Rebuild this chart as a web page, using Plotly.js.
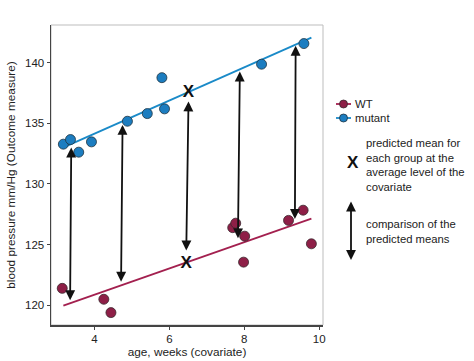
<!DOCTYPE html>
<html>
<head>
<meta charset="utf-8">
<script src="https://cdn.plot.ly/plotly-3.0.1.min.js"></script>
<style>html,body{margin:0;padding:0;background:#fff;}#chart{width:474px;height:361px;}</style>
</head>
<body>
<div id="chart"></div>
<script>
// ---- data ----
var mutantAge = [3.17, 3.36, 3.58, 3.92, 4.88, 5.41, 5.80, 5.87, 8.46, 9.59];
var mutantBP  = [133.28, 133.66, 132.62, 133.47, 135.17, 135.80, 138.76, 136.19, 139.87, 141.57];
var wtAge = [3.14, 4.25, 4.44, 7.69, 7.77, 7.98, 8.01, 9.18, 9.57, 9.79];
var wtBP  = [121.4, 120.5, 119.4, 126.4, 126.77, 123.56, 125.7, 127.0, 127.84, 125.07];
var mutantFitAge = [3.22, 9.79];
var mutantFitBP  = [133.08, 142.06];
var wtFitAge = [3.17, 9.79];
var wtFitBP  = [119.97, 127.14];
var meanAge = [6.45, 6.51];       // WT, mutant
var meanBP  = [123.4, 137.53];
var arrowTopAge = [3.38, 4.75, 6.51, 7.88, 9.37];
var arrowTopBP  = [133.0, 134.87, 136.8, 139.26, 141.38];
var arrowBottomAge = [3.35, 4.71, 6.45, 7.83, 9.35];
var arrowBottomBP  = [120.3, 121.83, 124.4, 125.4, 127.0];
var xTicks = [4, 6, 8, 10];
var yTicks = [120, 125, 130, 135, 140];
var groupNames = ['WT', 'mutant'];

var FONT = 'Liberation Sans, Arial, sans-serif';
var wtFill = '#8e1f47', wtLine = '#a3204f';
var muFill = '#1c7dc0', muLine = '#1a8ac8';

var traces = [
  {x: wtFitAge, y: wtFitBP, mode: 'lines', line: {color: wtLine, width: 1.8}, showlegend: false, hoverinfo: 'skip'},
  {x: mutantFitAge, y: mutantFitBP, mode: 'lines', line: {color: muLine, width: 1.8}, showlegend: false, hoverinfo: 'skip'},
  {x: wtAge, y: wtBP, mode: 'markers', name: groupNames[0], showlegend: false,
   marker: {size: 10, color: wtFill, line: {color: '#3a2a2e', width: 0.8}}},
  {x: mutantAge, y: mutantBP, mode: 'markers', name: groupNames[1], showlegend: false,
   marker: {size: 10, color: muFill, line: {color: '#1f3340', width: 0.8}}},
  {x: meanAge, y: meanBP, mode: 'text', text: ['X', 'X'], textposition: 'middle center',
   textfont: {family: FONT, size: 17, color: '#111', weight: 'bold'}, showlegend: false, hoverinfo: 'skip'}
];

var annotations = [];
for (var i = 0; i < arrowTopAge.length; i++) {
  annotations.push({
    x: arrowTopAge[i], y: arrowTopBP[i], xref: 'x', yref: 'y',
    ax: arrowBottomAge[i], ay: arrowBottomBP[i], axref: 'x', ayref: 'y',
    text: '', showarrow: true, arrowside: 'end+start',
    arrowhead: 2, startarrowhead: 2, arrowsize: 1.1, startarrowsize: 1.1,
    arrowwidth: 1.8, arrowcolor: '#111'
  });
}

// paper coordinate helpers (plot area: l=51, w=272, t=25, h=300)
function px(p) { return (p - 51) / 272; }
function py(p) { return (325 - p) / 300; }

// manual legend
var shapes = [
  {type: 'rect', xref: 'paper', yref: 'paper', x0: 0, x1: 1, y0: 0, y1: 1,
   line: {color: '#bdbdbd', width: 1}, layer: 'below'},
  {type: 'line', xref: 'paper', yref: 'paper', x0: px(336), x1: px(351), y0: py(104), y1: py(104),
   line: {color: wtLine, width: 1.8}},
  {type: 'circle', xref: 'paper', yref: 'paper', x0: px(339.5), x1: px(347.5), y0: py(108), y1: py(100),
   fillcolor: wtFill, line: {color: '#3a2a2e', width: 0.8}},
  {type: 'line', xref: 'paper', yref: 'paper', x0: px(336), x1: px(351), y0: py(118), y1: py(118),
   line: {color: muLine, width: 1.8}},
  {type: 'circle', xref: 'paper', yref: 'paper', x0: px(339.5), x1: px(347.5), y0: py(122), y1: py(114),
   fillcolor: muFill, line: {color: '#1f3340', width: 0.8}}
];

annotations.push(
  {xref: 'paper', yref: 'paper', x: px(353), y: py(104), xanchor: 'left', yanchor: 'middle',
   text: groupNames[0], showarrow: false, font: {family: FONT, size: 11.3, color: '#222'}},
  {xref: 'paper', yref: 'paper', x: px(353), y: py(118), xanchor: 'left', yanchor: 'middle',
   text: groupNames[1], showarrow: false, font: {family: FONT, size: 11.3, color: '#222'}},
  {xref: 'paper', yref: 'paper', x: px(353), y: py(162), xanchor: 'center', yanchor: 'middle',
   text: 'X', showarrow: false, font: {family: FONT, size: 17, color: '#111', weight: 'bold'}},
  {xref: 'paper', yref: 'paper', x: px(364), y: py(164.5), xanchor: 'left', yanchor: 'middle', align: 'left',
   text: 'predicted mean for<br>each group at the<br>average level of the<br>covariate',
   showarrow: false, font: {family: FONT, size: 11.3, color: '#222'}},
  {xref: 'paper', yref: 'paper', x: px(351), y: py(201.5), axref: 'pixel', ayref: 'pixel', ax: 0, ay: 60,
   text: '', showarrow: true, arrowside: 'end+start', arrowhead: 2, startarrowhead: 2,
   arrowsize: 1.1, startarrowsize: 1.1, arrowwidth: 1.8, arrowcolor: '#111'},
  {xref: 'paper', yref: 'paper', x: px(364), y: py(231), xanchor: 'left', yanchor: 'middle', align: 'left',
   text: 'comparison of the<br>predicted means',
   showarrow: false, font: {family: FONT, size: 11.3, color: '#222'}}
);

var layout = {
  width: 474, height: 361,
  margin: {l: 51, r: 151, t: 25, b: 36},
  paper_bgcolor: '#fff', plot_bgcolor: '#fff',
  font: {family: FONT, size: 11, color: '#222'},
  showlegend: false,
  xaxis: {
    range: [2.84, 10.1], tickvals: xTicks, ticktext: xTicks.map(String),
    showgrid: false, zeroline: false, showline: true, linecolor: '#444', linewidth: 1.5,
    ticks: 'outside', ticklen: 3, tickwidth: 1, tickcolor: '#444',
    tickfont: {family: FONT, size: 11.5, color: '#222'},
    title: {text: 'age, weeks (covariate)', font: {family: FONT, size: 11.8, color: '#222'}, standoff: 2}
  },
  yaxis: {
    range: [118.38, 143.1], tickvals: yTicks, ticktext: yTicks.map(String),
    showgrid: false, zeroline: false, showline: true, linecolor: '#444', linewidth: 1.5,
    ticks: 'outside', ticklen: 3, tickwidth: 1, tickcolor: '#444',
    tickfont: {family: FONT, size: 11.5, color: '#222'},
    title: {text: 'blood pressure mm/Hg (Outcome measure)', font: {family: FONT, size: 11.8, color: '#222'}, standoff: 7}
  },
  shapes: shapes,
  annotations: annotations
};

Plotly.newPlot('chart', traces, layout, {displayModeBar: false, staticPlot: true});
</script>
</body>
</html>
